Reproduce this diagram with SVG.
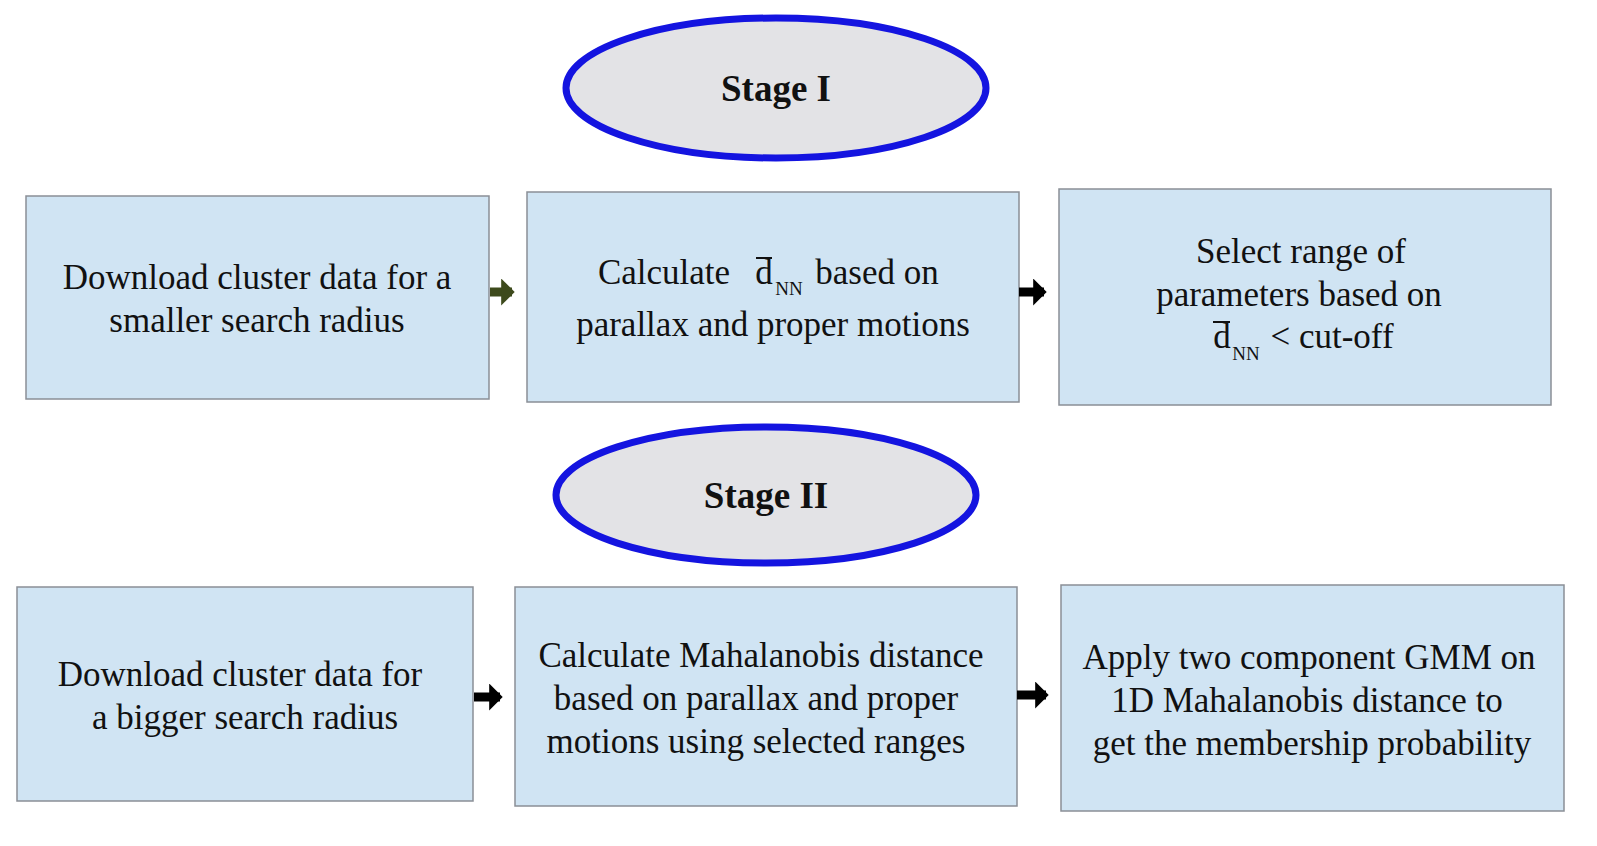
<svg xmlns="http://www.w3.org/2000/svg" width="1597" height="846" viewBox="0 0 1597 846">
<style>
.box{fill:#d0e4f3;stroke:#8a8f96;stroke-width:1.5}
.ell{fill:#e3e3e6;stroke:#1414e0;stroke-width:7}
text{font-family:"Liberation Serif",serif;font-size:35px;fill:#111;text-anchor:middle}
.st{font-size:37px;font-weight:bold}
.sub{font-size:19px}
</style>
<defs>
<marker id="ah" markerWidth="3" markerHeight="3" refX="1.2" refY="1.5" orient="auto" markerUnits="strokeWidth"><path d="M0,0 L1.5,1.5 L0,3z" fill="context-stroke"/></marker>
</defs>
<rect width="1597" height="846" fill="#fff"/>
<g id="stage1"><ellipse class="ell" cx="776" cy="88" rx="210" ry="70"/><text class="st" x="776" y="101">Stage I</text></g>
<g id="box1"><rect class="box" x="26" y="196" width="463" height="203"/><text x="257" y="289">Download cluster data for a</text><text x="257" y="332">smaller search radius</text></g>
<g id="box2"><rect class="box" x="527" y="192" width="492" height="210"/>
<text x="664" y="284">Calculate</text><text x="764" y="284">d</text><line x1="756" y1="258" x2="772" y2="258" stroke="#111" stroke-width="2"/><text class="sub" x="789" y="295">NN</text><text x="877" y="284">based on</text>
<text x="773" y="336">parallax and proper  motions</text></g>
<g id="box3"><rect class="box" x="1059" y="189" width="492" height="216"/><text x="1301" y="263">Select range of</text><text x="1299" y="306">parameters based on</text>
<text x="1222" y="348">d</text><line x1="1213" y1="322" x2="1230" y2="322" stroke="#111" stroke-width="2"/><text class="sub" x="1246" y="360">NN</text><text x="1332" y="348">&lt; cut-off</text></g>
<g id="stage2"><ellipse class="ell" cx="766" cy="495" rx="210" ry="68"/><text class="st" x="766" y="508">Stage II</text></g>
<g id="box4"><rect class="box" x="17" y="587" width="456" height="214"/><text x="240" y="686">Download cluster data for</text><text x="245" y="729">a bigger search radius</text></g>
<g id="box5"><rect class="box" x="515" y="587" width="502" height="219"/><text x="761" y="667">Calculate Mahalanobis distance</text><text x="756" y="710">based on parallax and proper</text><text x="756" y="753">motions using selected ranges</text></g>
<g id="box6"><rect class="box" x="1061" y="585" width="503" height="226"/><text x="1309" y="669">Apply two component GMM on</text><text x="1307" y="712">1D Mahalanobis distance to</text><text x="1312" y="755">get the membership probability</text></g>
<g id="connectors" stroke-width="9" fill="none">
<line x1="490" y1="292" x2="512" y2="292" stroke="#3d4a1c" marker-end="url(#ah)"/>
<line x1="1019" y1="292" x2="1044" y2="292" stroke="#000" marker-end="url(#ah)"/>
<line x1="474" y1="697" x2="500" y2="697" stroke="#000" marker-end="url(#ah)"/>
<line x1="1017" y1="695" x2="1046" y2="695" stroke="#000" marker-end="url(#ah)"/>
</g>
</svg>
